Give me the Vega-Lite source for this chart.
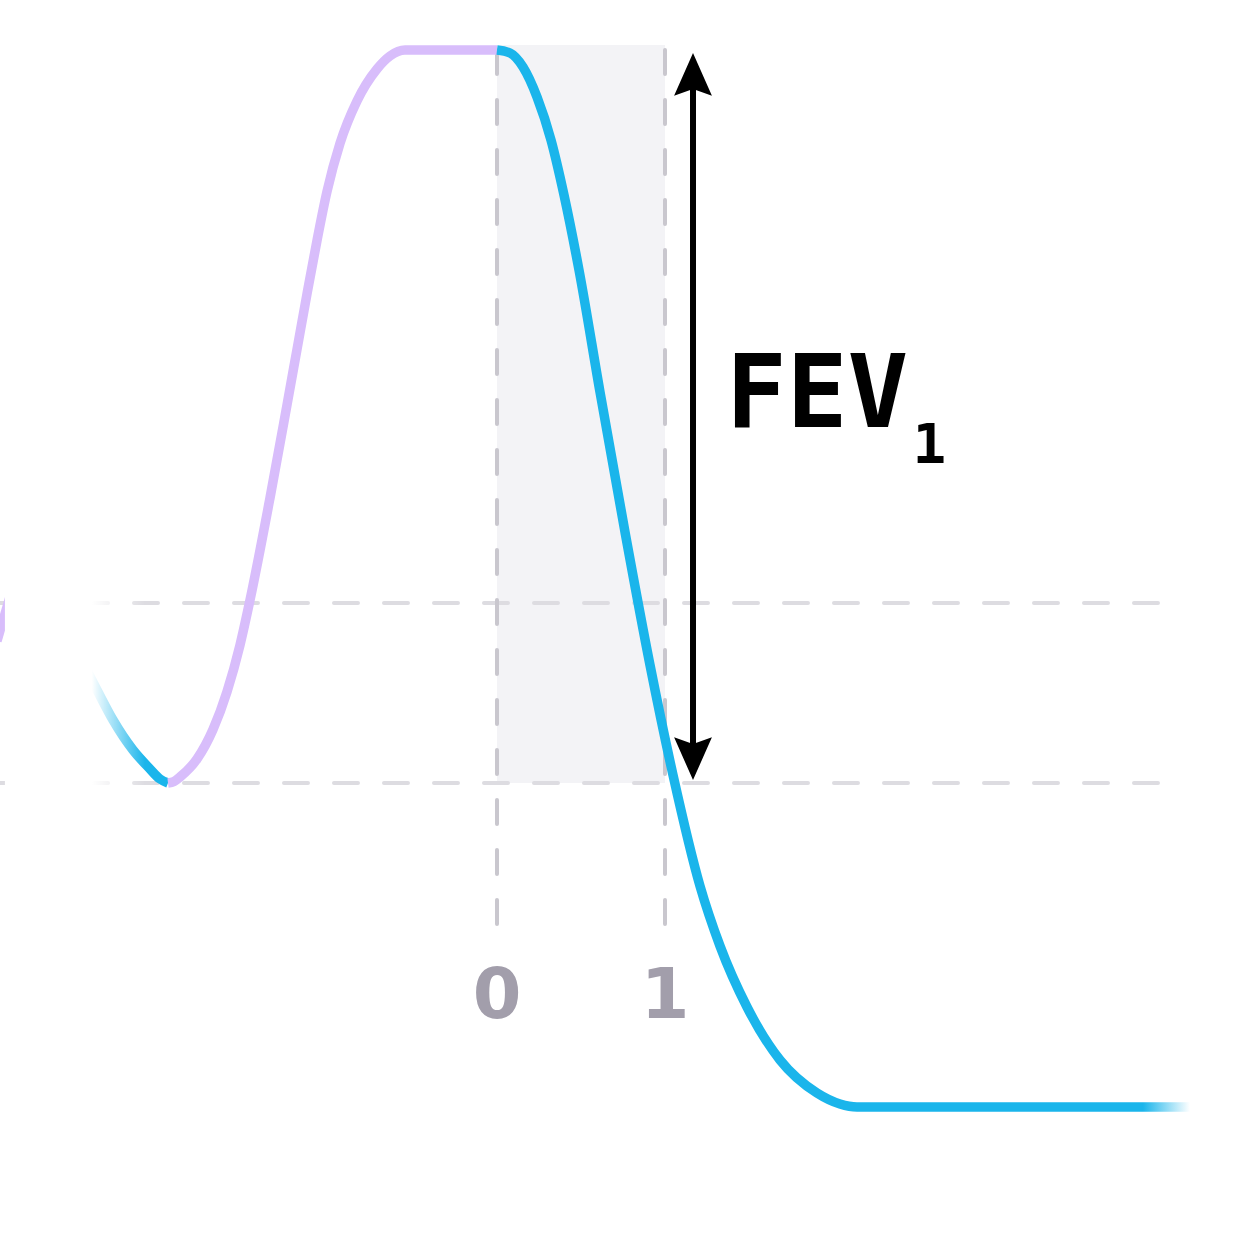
{
  "$schema": "https://vega.github.io/schema/vega-lite/v6.json",
  "width": 1250,
  "height": 1250,
  "autosize": {"type": "none"},
  "padding": 0,
  "background": "white",
  "config": {"view": {"stroke": null}},
  "datasets": {
    "band": [{"t": 0, "t2": 1, "v": 4.027, "v2": 0}],
    "hlines": [
      {"t": -3.0536, "t2": 3.9464, "v": 0.9823},
      {"t": -3.0536, "t2": 3.9464, "v": 0}
    ],
    "vlines": [
      {"t": 0, "v": 4.0, "v2": -0.786},
      {"t": 1, "v": 4.0, "v2": -0.786}
    ],
    "inhale_prev": [
      {"t": -2.9762, "v": 0.7749},
      {"t": -2.8869, "v": 1.0532}
    ],
    "exhale_prev": [
      {"t": -2.4524, "v": 0.633},
      {"t": -2.381, "v": 0.5075},
      {"t": -2.2857, "v": 0.3438},
      {"t": -2.1667, "v": 0.1801},
      {"t": -2.0655, "v": 0.0764},
      {"t": -2.006, "v": 0.0218},
      {"t": -1.9583, "v": 0}
    ],
    "inhale": [
      {"t": -1.9583, "v": 0},
      {"t": -1.9226, "v": 0.0082},
      {"t": -1.8869, "v": 0.0327},
      {"t": -1.7857, "v": 0.131},
      {"t": -1.6905, "v": 0.2919},
      {"t": -1.6071, "v": 0.4982},
      {"t": -1.5298, "v": 0.7531},
      {"t": -1.4702, "v": 0.9986},
      {"t": -1.3512, "v": 1.5553},
      {"t": -1.25, "v": 2.0628},
      {"t": -1.1905, "v": 2.3656},
      {"t": -1.131, "v": 2.6685},
      {"t": -1.0714, "v": 2.9604},
      {"t": -1.0119, "v": 3.2278},
      {"t": -0.9345, "v": 3.4903},
      {"t": -0.8333, "v": 3.7217},
      {"t": -0.7143, "v": 3.8963},
      {"t": -0.6369, "v": 3.9673},
      {"t": -0.5476, "v": 4.0},
      {"t": 0, "v": 4.0}
    ],
    "exhale": [
      {"t": 0, "v": 4.0},
      {"t": 0.0774, "v": 3.9836},
      {"t": 0.1548, "v": 3.9072},
      {"t": 0.2381, "v": 3.7435},
      {"t": 0.3214, "v": 3.5089},
      {"t": 0.3988, "v": 3.2087},
      {"t": 0.4881, "v": 2.7995},
      {"t": 0.6131, "v": 2.1337},
      {"t": 0.7619, "v": 1.3697},
      {"t": 0.9107, "v": 0.6439},
      {"t": 1.0476, "v": 0.0437},
      {"t": 1.2083, "v": -0.5621},
      {"t": 1.3274, "v": -0.8895},
      {"t": 1.4881, "v": -1.2224},
      {"t": 1.6845, "v": -1.5116},
      {"t": 1.9048, "v": -1.6917},
      {"t": 2.0417, "v": -1.7517},
      {"t": 2.1429, "v": -1.7681},
      {"t": 4.125, "v": -1.7681}
    ],
    "mask": [{"t": -2.929, "t2": -2.095, "v": 1.6, "v2": -0.4}],
    "arrow": [{"t": 1.1667, "v": 3.809, "v2": 0.18}],
    "heads": [
      {"t": 1.1667, "v": 3.864, "dir": "up"},
      {"t": 1.1667, "v": 0.136, "dir": "down"}
    ],
    "main_label": [{"t": 1.363, "v": 1.943, "label": "FEV"}],
    "sub_label": [{"t": 2.574, "v": 1.746, "label": "1"}],
    "ticks": [
      {"t": 0, "v": -1.282, "label": "0"},
      {"t": 1, "v": -1.282, "label": "1"}
    ]
  },
  "encoding": {
    "x": {
      "field": "t",
      "type": "quantitative",
      "scale": {"domain": [-2.9583, 4.4821], "nice": false, "zero": false},
      "axis": null
    },
    "y": {
      "field": "v",
      "type": "quantitative",
      "scale": {"domain": [-2.5484, 4.2729], "nice": false, "zero": false},
      "axis": null
    }
  },
  "layer": [
    {
      "data": {"name": "band"},
      "mark": {"type": "rect", "color": "#f3f3f6"},
      "encoding": {"x2": {"field": "t2"}, "y2": {"field": "v2"}}
    },
    {
      "data": {"name": "hlines"},
      "mark": {"type": "rule", "color": "#dddce1", "strokeWidth": 4, "strokeDash": [24, 26], "strokeCap": "round"},
      "encoding": {"x2": {"field": "t2"}}
    },
    {
      "data": {"name": "vlines"},
      "mark": {"type": "rule", "color": "#c9c7ce", "strokeWidth": 4, "strokeDash": [24, 26], "strokeCap": "round"},
      "encoding": {"y2": {"field": "v2"}}
    },
    {
      "data": {"name": "inhale_prev"},
      "mark": {"type": "line", "color": "#d8bdfb", "strokeWidth": 9.5, "strokeCap": "butt"}
    },
    {
      "data": {"name": "exhale_prev"},
      "mark": {"type": "line", "color": "#1ab5eb", "strokeWidth": 9.5, "strokeCap": "butt", "interpolate": "monotone"}
    },
    {
      "data": {"name": "inhale"},
      "mark": {"type": "line", "color": "#d8bdfb", "strokeWidth": 9.5, "strokeCap": "butt", "interpolate": "monotone"}
    },
    {
      "data": {"name": "exhale"},
      "mark": {
        "type": "line",
        "strokeWidth": 9.5,
        "strokeCap": "butt",
        "interpolate": "monotone",
        "stroke": {
          "gradient": "linear",
          "x1": 0, "y1": 0, "x2": 1, "y2": 0,
          "stops": [
            {"offset": 0, "color": "#1ab5eb"},
            {"offset": 0.932, "color": "#1ab5eb"},
            {"offset": 1, "color": "rgba(26,181,235,0)"}
          ]
        }
      }
    },
    {
      "data": {"name": "mask"},
      "mark": {
        "type": "rect",
        "fill": {
          "gradient": "linear",
          "x1": 0, "y1": 0, "x2": 1, "y2": 0,
          "stops": [
            {"offset": 0, "color": "#ffffff"},
            {"offset": 0.62, "color": "#ffffff"},
            {"offset": 1, "color": "rgba(255,255,255,0)"}
          ]
        }
      },
      "encoding": {"x2": {"field": "t2"}, "y2": {"field": "v2"}}
    },
    {
      "data": {"name": "arrow"},
      "mark": {"type": "rule", "color": "#000000", "strokeWidth": 6},
      "encoding": {"y2": {"field": "v2"}}
    },
    {
      "data": {"name": "heads"},
      "mark": {"type": "point", "filled": true, "opacity": 1, "color": "#000000", "strokeWidth": 0, "size": 1936},
      "encoding": {
        "shape": {
          "field": "dir",
          "type": "nominal",
          "scale": {
            "domain": ["up", "down"],
            "range": [
              "M0,-1L0.86,0.95L0,0.64L-0.86,0.95Z",
              "M0,1L0.86,-0.95L0,-0.64L-0.86,-0.95Z"
            ]
          },
          "legend": null
        }
      }
    },
    {
      "data": {"name": "main_label"},
      "mark": {"type": "text", "font": "DejaVu Sans Mono", "fontWeight": "bold", "fontSize": 101, "align": "left", "baseline": "alphabetic", "color": "#000000"},
      "encoding": {"text": {"field": "label"}}
    },
    {
      "data": {"name": "sub_label"},
      "mark": {"type": "text", "font": "DejaVu Sans Mono", "fontWeight": "bold", "fontSize": 56, "align": "center", "baseline": "alphabetic", "color": "#000000"},
      "encoding": {"text": {"field": "label"}}
    },
    {
      "data": {"name": "ticks"},
      "mark": {"type": "text", "font": "DejaVu Sans", "fontWeight": "bold", "fontSize": 70, "align": "center", "baseline": "alphabetic", "color": "#a29eab"},
      "encoding": {"text": {"field": "label"}}
    }
  ]
}
